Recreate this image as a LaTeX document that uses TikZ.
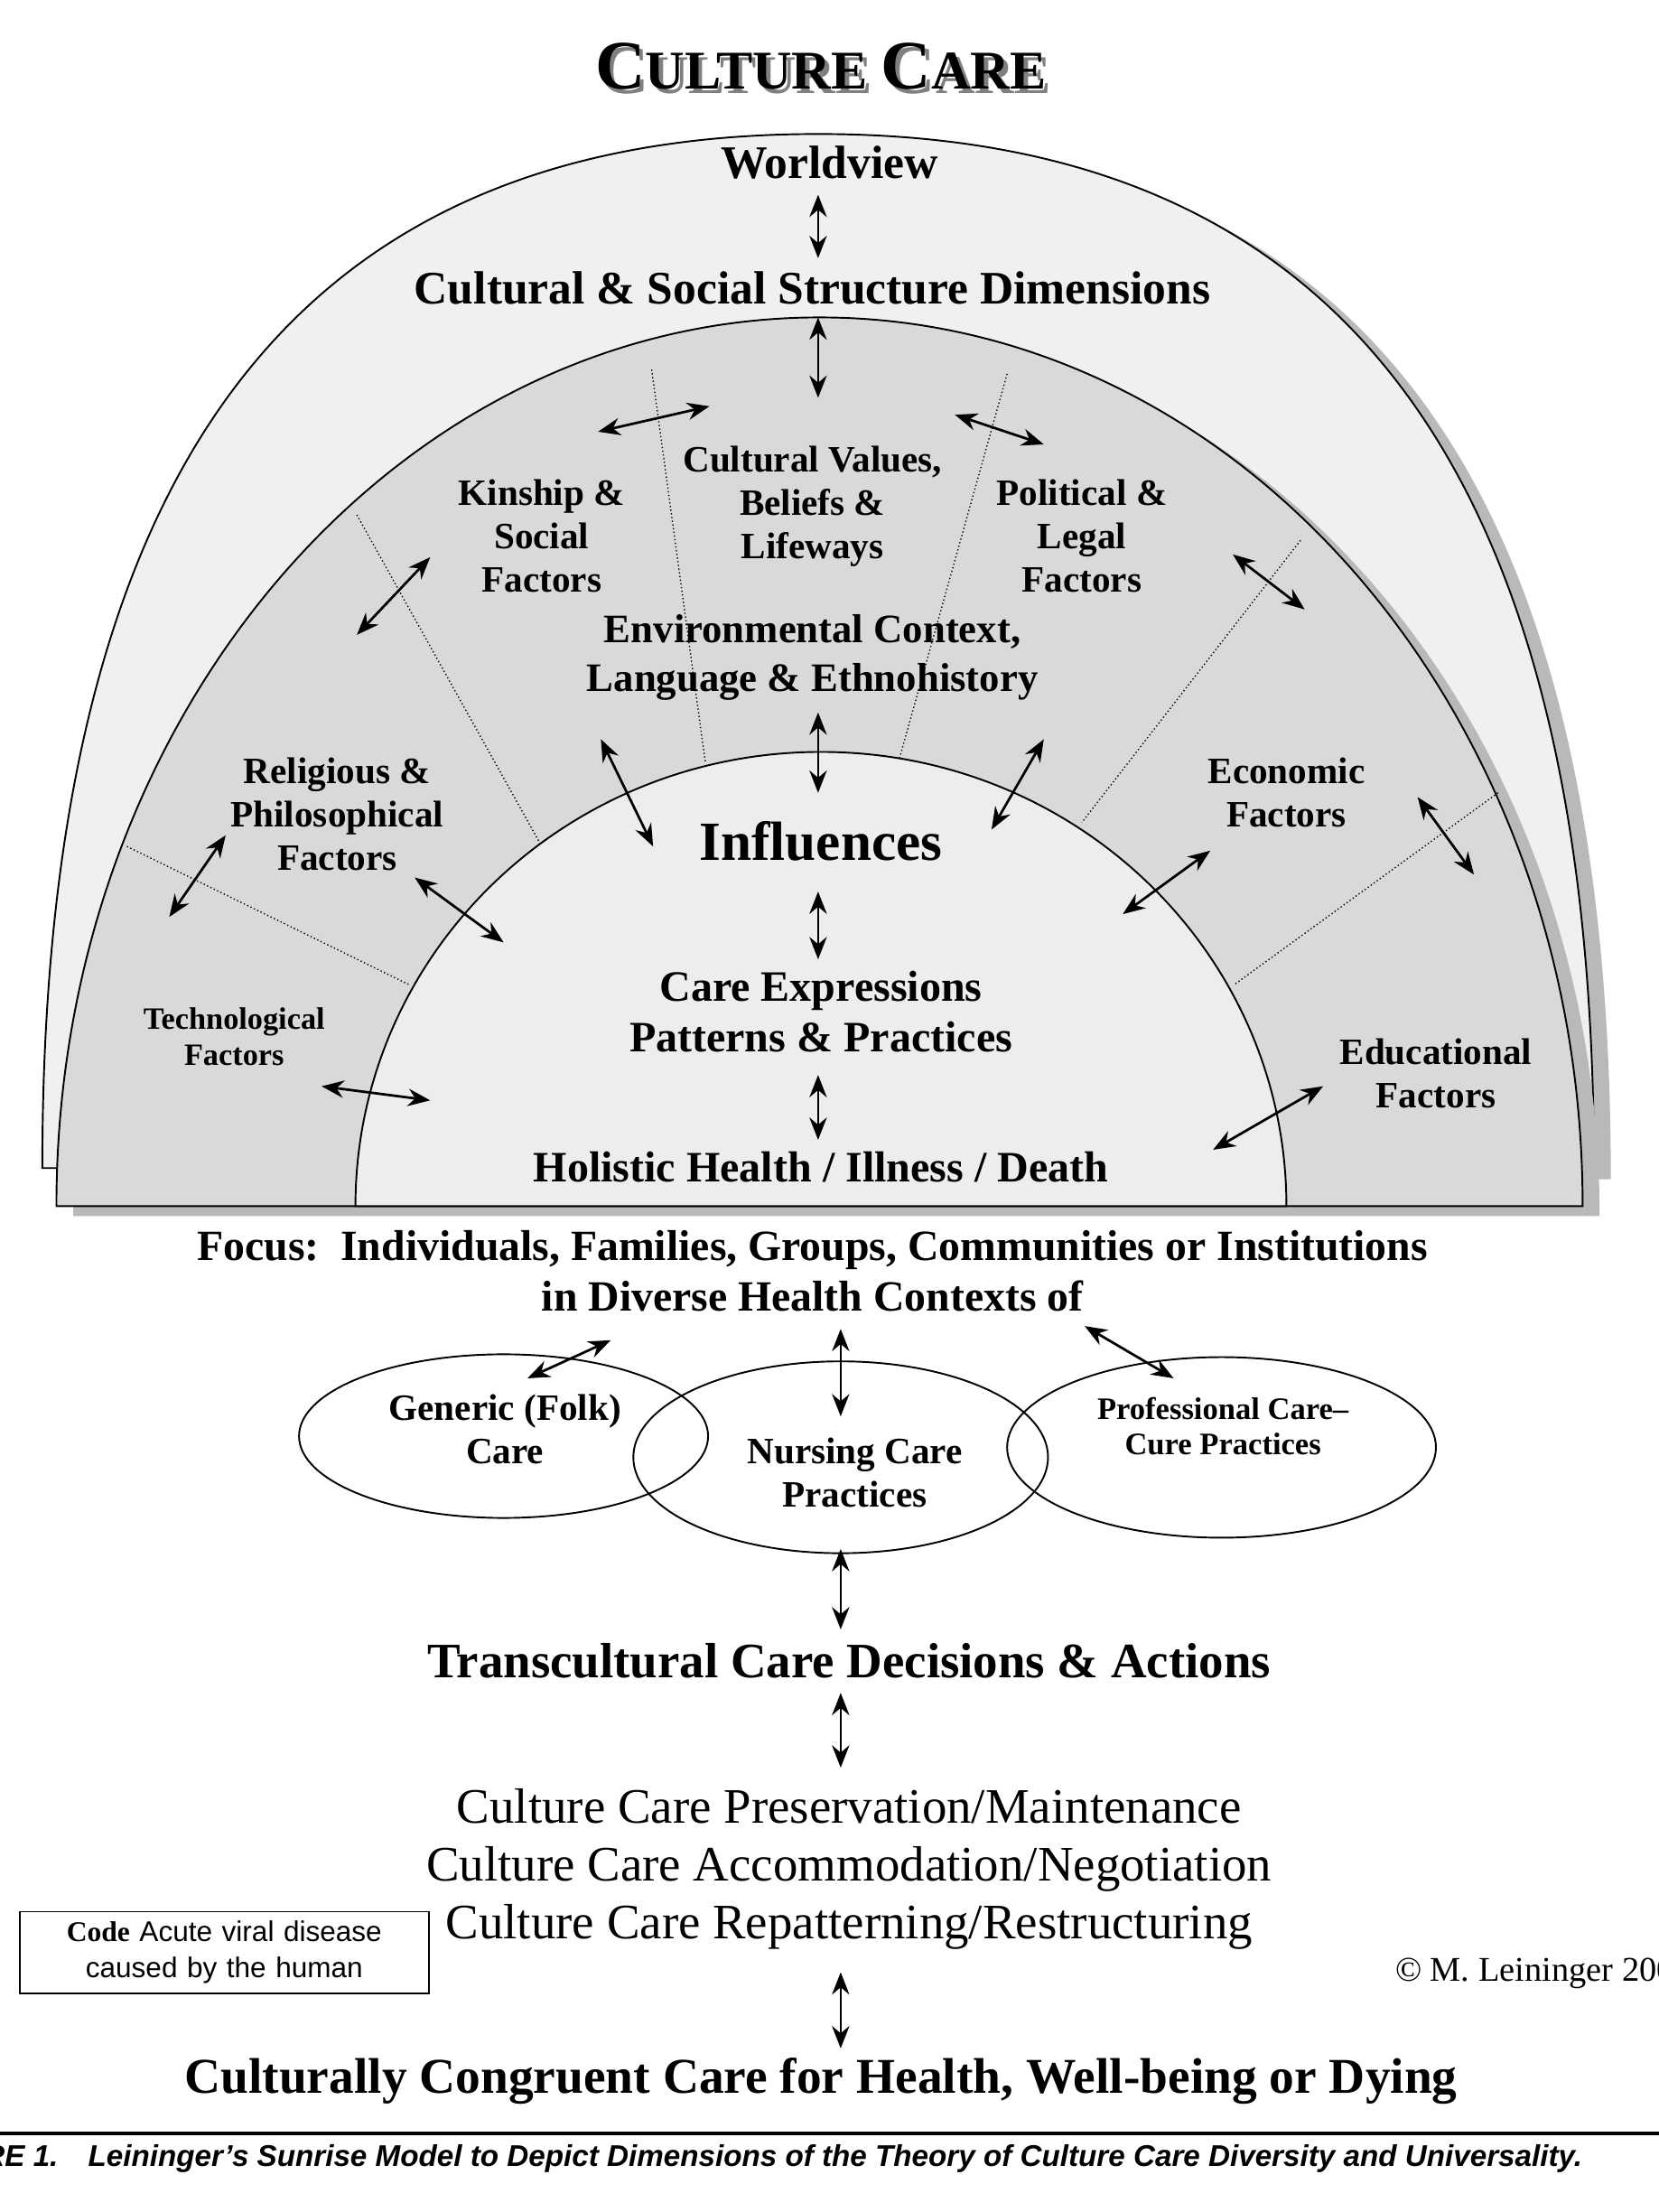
\documentclass[tikz,border=0pt]{standalone}
\usepackage{fontspec}
\setmainfont{Liberation Serif}
\setsansfont{Liberation Sans}
\usetikzlibrary{arrows.meta}
\begin{document}
\begin{tikzpicture}[x=0.02cm,y=-0.02cm,
  arr/.style={{Stealth[length=9pt,width=7pt]}-{Stealth[length=9pt,width=7pt]},line width=1pt},
  dot/.style={densely dotted,line width=0.5pt},
  lab/.style={font=\bfseries\fontsize{15}{17.5}\selectfont,align=center},
  big/.style={font=\bfseries\fontsize{18.8}{22}\selectfont,align=center},
  plain/.style={font=\fontsize{20}{23.3}\selectfont,align=center}]
\useasboundingbox (0,0) rectangle (1176,1568);
% outer arch
\fill[gray!55] (42,836) .. controls (42,285) and (262,101) .. (592,101) .. controls (922,101) and (1142,285) .. (1142,836) -- cycle;
\filldraw[fill=gray!12,draw=black,line width=0.7pt] (30,828) .. controls (30,280) and (250,95) .. (580,95) .. controls (910,95) and (1130,280) .. (1130,828) -- cycle;
% middle arch
\fill[gray!55] (52,862) arc[start angle=180,end angle=360,x radius=541,y radius=630] -- cycle;
\filldraw[fill=gray!30,draw=black,line width=0.7pt] (40,855) arc[start angle=180,end angle=360,x radius=541,y radius=630] -- cycle;
% dotted dividers
\draw[dot] (462,262)--(500,540); \draw[dot] (714,265)--(637,540);
\draw[dot] (253,365)--(383,598); \draw[dot] (922,383)--(767,583);
\draw[dot] (90,600)--(290,698); \draw[dot] (1062,562)--(875,698);
% inner arch
\filldraw[fill=gray!14,draw=black,line width=0.7pt] (252,855) arc[start angle=180,end angle=360,x radius=330,y radius=322] -- cycle;
% title
\node (tshadow) [font=\bfseries\fontsize{28}{32}\selectfont,text=gray] at (585,50) {C\fontsize{22}{26}\selectfont ULTURE \fontsize{28}{32}\selectfont C\fontsize{22}{26}\selectfont ARE};
\node (title) [font=\bfseries\fontsize{28}{32}\selectfont] at (582,47) {C\fontsize{22}{26}\selectfont ULTURE \fontsize{28}{32}\selectfont C\fontsize{22}{26}\selectfont ARE};
\node (wv) [big] at (588,115) {Worldview};
\node (csd) [big] at (576,204) {Cultural \& Social Structure Dimensions};
\node (kin) [lab] at (384,380) {Kinship \&\\Social\\Factors};
\node (cv) [lab] at (576,359) {Cultural Values,\\Beliefs \&\\Lifeways};
\node (pol) [lab] at (767,380) {Political \&\\Legal\\Factors};
\node (env) [lab,font=\bfseries\fontsize{16.3}{19.5}\selectfont] at (576,466) {Environmental Context,\\Language \& Ethnohistory};
\node (rel) [lab] at (239,577) {Religious \&\\Philosophical\\Factors};
\node (eco) [lab] at (912,562) {Economic\\Factors};
\node (inf) [font=\bfseries\fontsize{22.3}{25}\selectfont] at (582,596) {Influences};
\node (tech) [lab,font=\bfseries\fontsize{12.5}{14.5}\selectfont] at (166,735) {Technological\\Factors};
\node (ce) [lab,font=\bfseries\fontsize{17.5}{20.5}\selectfont] at (582,717) {Care Expressions\\Patterns \& Practices};
\node (edu) [lab] at (1018,761) {Educational\\Factors};
\node (hh) [lab,font=\bfseries\fontsize{17.5}{19}\selectfont] at (582,827) {Holistic Health / Illness / Death};
\node (foc) [lab,font=\bfseries\fontsize{17.4}{20.5}\selectfont] at (576,901) {Focus:\ \ Individuals, Families, Groups, Communities or Institutions\\in Diverse Health Contexts of};
% ellipses
\draw[line width=0.7pt] (357,1018) ellipse[x radius=145,y radius=58];
\draw[line width=0.7pt] (596,1033) ellipse[x radius=147,y radius=68];
\draw[line width=0.7pt] (866,1026) ellipse[x radius=152,y radius=64];
\node (gen) [lab] at (358,1013) {Generic (Folk)\\Care};
\node (nur) [lab] at (606,1044) {Nursing Care\\Practices};
\node (pro) [lab,font=\bfseries\fontsize{12.6}{14.5}\selectfont] at (867,1011) {Professional Care--\\Cure Practices};
\node (tcd) [big,font=\bfseries\fontsize{20}{22}\selectfont] at (602,1177) {Transcultural Care Decisions \& Actions};
\node (ccp) [plain] at (602,1325) {Culture Care Preservation/Maintenance\\Culture Care Accommodation/Negotiation\\Culture Care Repatterning/Restructuring};
\node (code) [draw,line width=0.6pt,font=\sffamily\fontsize{11.5}{14.5}\selectfont,align=center,inner sep=0pt,minimum height=1.16cm,text width=5.8cm] at (159,1384) {{\rmfamily\bfseries Code} Acute viral disease\\caused by the human};
\node (lein) [anchor=west,font=\fontsize{14}{16}\selectfont] at (983,1399) {© M. Leininger 2004};
\node (ccc) [big,font=\bfseries\fontsize{20.2}{23}\selectfont] at (582,1475) {Culturally Congruent Care for Health, Well-being or Dying};
\draw[line width=1.5pt] (0,1512)--(1176,1512);
\node (cap) [anchor=east,font=\sffamily\bfseries\itshape\fontsize{12.1}{14}\selectfont] at (1128,1530) {FIGURE 1.\quad Leininger's Sunrise Model to Depict Dimensions of the Theory of Culture Care Diversity and Universality.};
% arrows
\foreach \x/\y/\u/\v in {580/138/580/183, 580/225/580/282, 424/306/503/288, 677/294/740/315,
  253/450/305/395, 874/393/925/432, 120/650/160/592, 426/524/463/600, 580/505/580/562,
  740/524/703/588, 1005/565/1045/620, 294/622/357/668, 796/648/858/603, 580/632/580/680,
  228/770/305/780, 580/762/580/808, 860/815/938/770, 374/977/433/950, 596/942/596/1004,
  769/940/832/977, 596/1098/596/1155, 596/1200/596/1253, 596/1398/596/1452}
  \draw[arr] (\x,\y) -- (\u,\v);
\end{tikzpicture}
\end{document}
